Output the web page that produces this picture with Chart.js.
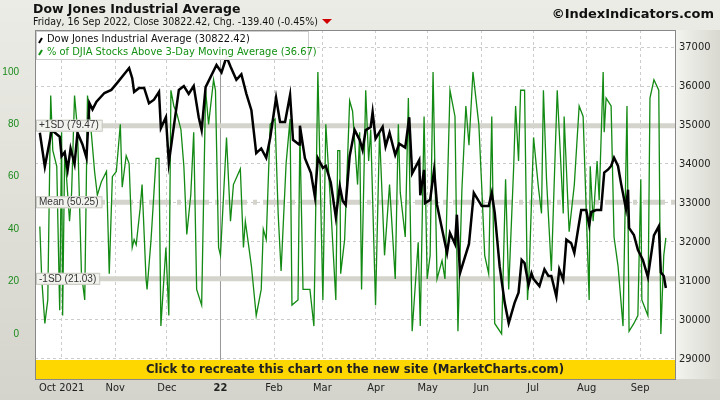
<!DOCTYPE html>
<html>
<head>
<meta charset="utf-8">
<script src="https://cdn.jsdelivr.net/npm/chart.js@4/dist/chart.umd.min.js"></script>
<style>
html,body{margin:0;padding:0;background:#d8d8d0;}
#wrap{width:720px;height:400px;}
</style>
</head>
<body>
<div id="wrap"><canvas id="c" width="720" height="400"></canvas></div>
<script>
// Dados (dias desde 17 Sep 2021)
const djiaDias = [1.4,4.3,8.3,12.9,14.0,15.8,17.5,19.2,21.5,23.2,26.1,28.4,30.1,31.9,34.2,38.8,42.8,46.2,53.1,54.9,56.0,58.9,61.8,64.6,67.5,70.4,71.5,74.4,76.1,81.9,84.8,87.6,90.5,93.4,95.1,97.4,103.7,106.6,109.5,111.8,115.2,118.1,121.0,123.9,126.7,129.6,132.5,134.8,138.2,140.5,143.4,146.3,148.0,151.5,152.0,154.9,158.4,160.7,162.4,165.3,167.0,169.9,172.8,175.1,176.8,178.5,180.8,183.7,186.6,188.3,190.1,193.0,194.1,195.8,199.9,201.6,203.9,207.2,209.5,213.0,215.3,217.0,221.1,221.7,223.9,224.5,227.4,229.7,231.4,237.2,238.9,241.8,242.9,244.7,249.9,252.7,257.3,261.3,263.1,264.8,267.7,270.6,272.9,276.3,278.6,280.4,282.1,284.4,286.1,287.3,290.7,293.6,295.9,297.6,300.5,302.2,304.5,306.3,309.1,310.9,313.2,314.9,317.8,319.5,320.7,323.5,326.4,328.2,330.5,332.2,333.9,336.2,338.0,340.8,342.0,342.6,345.4,347.7,350.6,353.5,357.0,359.8,361.0,362.7,363.9];
const djiaValores = [34800,33930,34870,34700,34200,34300,33850,34400,34000,34800,34500,34160,35560,35400,35600,35820,35900,36080,36460,36200,35850,35950,35950,35560,35650,35850,34920,35200,34030,35900,36000,35800,36000,35200,34870,35970,36540,36350,36750,36500,36160,36300,35800,35380,34280,34400,34160,34670,35700,35080,35080,35770,34620,34500,34980,34150,33770,33160,34150,33900,33950,33520,32640,33430,33050,32950,34200,34870,34620,34360,34870,34950,35330,34650,34950,34450,34800,34230,34520,34420,35200,33760,34100,33200,33850,33000,33080,33850,32950,31720,32230,31950,32700,31200,31950,33260,32920,32920,33260,32750,31360,30440,29920,30440,30700,31540,31460,30900,31200,31050,30870,31300,31130,31130,30600,31300,31030,32060,31970,31720,32360,32820,32820,32430,32770,32820,32820,33780,33860,33950,34160,33950,33490,32850,33340,32360,32180,31800,31540,31100,32170,32400,31220,31130,30820];

const pctDias = [1.4,2.5,4.3,6.0,7.7,8.9,11.2,12.9,14.0,14.6,15.8,18.6,19.8,21.5,23.2,25.5,27.4,29.0,31.3,33.1,34.7,37.0,40.0,41.6,43.4,45.7,48.0,49.1,51.4,53.1,54.9,56.0,57.2,59.5,60.6,62.9,63.5,65.8,68.7,70.4,71.5,74.4,76.1,77.3,79.0,80.8,83.1,84.8,86.5,88.8,90.5,92.2,95.1,97.4,99.1,102.0,103.1,104.9,106.0,109.5,111.8,113.5,117.5,119.3,120.4,123.9,126.7,129.6,130.8,132.5,134.8,137.6,139.4,141.1,144.0,146.3,147.4,150.9,152.0,153.8,157.8,160.1,162.4,165.3,167.0,169.9,172.8,173.9,175.1,175.6,177.9,180.8,182.5,185.4,186.6,187.7,190.1,191.8,193.0,195.8,198.1,201.0,203.9,207.2,209.0,210.1,213.0,214.8,217.0,220.5,221.7,223.9,225.7,227.4,229.1,231.4,234.3,236.0,238.9,241.8,243.5,245.8,248.1,249.9,252.2,255.6,257.3,259.0,261.3,263.1,264.8,268.8,271.1,272.9,275.8,276.9,278.6,279.8,282.1,283.8,284.9,287.3,290.1,291.9,293.0,294.8,297.6,301.0,304.5,305.0,307.9,310.9,313.7,316.0,319.5,320.1,321.8,324.1,325.3,327.6,328.2,329.3,332.2,333.9,336.2,339.1,341.4,342.6,345.4,347.7,349.4,350.0,353.5,354.7,357.0,359.8,361.0,362.7,363.9];
const pctValores = [41,21,4,13,91,70,64,9,77,7,70,43,54,91,78,23,13,91,76,62,53,58,62,23,60,62,80,56,68,65,33,36,34,48,57,21,17,36,67,67,3,33,7,93,87,84,78,64,38,53,77,17,11,93,80,97,93,33,30,75,43,57,63,33,43,26,7,17,40,36,80,82,46,24,65,82,11,13,77,17,17,3,100,13,80,48,13,70,70,23,36,89,85,57,77,17,93,66,78,11,77,30,57,21,80,54,37,90,1,35,3,83,21,30,100,21,28,21,93,83,1,55,87,72,100,80,56,30,23,83,4,0,59,17,64,87,66,93,93,13,26,75,56,46,93,59,24,93,46,83,39,57,87,83,13,64,43,66,51,100,77,90,87,37,26,3,87,1,4,7,59,13,7,90,97,93,0,30,36.67];

const mesesDias = [14,45,75,106,137,165,196,226,257,287,318,349];
const mesesRotulos = ["Oct 2021","Nov","Dec","22","Feb","Mar","Apr","May","Jun","Jul","Aug","Sep"];
const bandas = [{v:79.47,t:"+1SD (79.47)"},{v:50.25,t:"Mean (50.25)",dash:true},{v:21.03,t:"-1SD (21.03)"}];
const ticksEsq = [0,20,40,60,80,100];

const pares = (xs,ys)=>xs.map((x,i)=>({x, y:ys[i]}));
const FONTE = "'Liberation Sans', Arial, sans-serif";
const ESTREITA = "'Liberation Sans Narrow','DejaVu Sans Condensed',sans-serif";

const fundo = {
  id:"fundo",
  beforeDraw(ch){
    const c = ch.ctx, a = ch.chartArea;
    const g = c.createLinearGradient(0,0,0,400);
    g.addColorStop(0,"#ecece6"); g.addColorStop(1,"#d4d4cc");
    c.save();
    c.fillStyle = g; c.fillRect(0,0,720,400);
    const g2 = c.createLinearGradient(a.right,0,720,0);
    g2.addColorStop(0,"#f4f4f0"); g2.addColorStop(1,"#d8d8d0");
    c.fillStyle = g2; c.fillRect(a.right,a.top,720-a.right,a.bottom-a.top);
    c.fillStyle = "#fff"; c.fillRect(a.left,a.top,a.right-a.left,a.bottom-a.top);
    c.restore();
  },
  beforeDatasetsDraw(ch){
    const c = ch.ctx, a = ch.chartArea, y = ch.scales.y, x = ch.scales.x;
    c.save();
    const xj = x.getPixelForValue(106);
    c.strokeStyle = "#999"; c.lineWidth = 1;
    c.beginPath(); c.moveTo(xj,a.top); c.lineTo(xj,a.bottom); c.stroke();
    bandas.forEach(b=>{
      const py = y.getPixelForValue(b.v);
      c.strokeStyle = "#d4d4cc"; c.lineWidth = 5;
      c.setLineDash(b.dash ? [22,6,4,6] : []);
      c.beginPath(); c.moveTo(a.left,py); c.lineTo(a.right,py); c.stroke();
    });
    c.setLineDash([]);
    c.restore();
  },
  afterDatasetsDraw(ch){
    const c = ch.ctx, a = ch.chartArea, y = ch.scales.y;
    c.save();
    c.font = "10px " + FONTE; c.textBaseline = "middle";
    bandas.forEach(b=>{
      const py = y.getPixelForValue(b.v);
      const w = c.measureText(b.t).width + 6;
      c.fillStyle = "#f2f2ee"; c.strokeStyle = "#c8c8c0"; c.lineWidth = 1;
      c.fillRect(a.left+1,py-6,w,12); c.strokeRect(a.left+1.5,py-5.5,w,11);
      c.fillStyle = "#333"; c.fillText(b.t,a.left+4,py);
    });
    // faixa amarela
    c.fillStyle = "#ffd700"; c.fillRect(a.left,360,a.right-a.left,a.bottom-360);
    c.fillStyle = "#222"; c.font = "bold 13px 'DejaVu Sans Condensed','DejaVu Sans',sans-serif";
    c.textAlign = "center";
    c.fillText("Click to recreate this chart on the new site (MarketCharts.com)",(a.left+a.right)/2,369.5);
    c.textAlign = "left";
    // legenda
    c.fillStyle = "rgba(255,255,255,0.95)"; c.strokeStyle = "#ccc";
    c.fillRect(a.left+1,a.top+1,272,28); c.strokeRect(a.left+1.5,a.top+1.5,272,28);
    c.font = "11px 'DejaVu Sans Condensed','DejaVu Sans',sans-serif";
    c.lineWidth = 2;
    c.strokeStyle = "#000"; c.beginPath(); c.moveTo(a.left+4,a.top+13); c.lineTo(a.left+7,a.top+8); c.stroke();
    c.fillStyle = "#111"; c.fillText("Dow Jones Industrial Average (30822.42)",a.left+12,a.top+9);
    c.strokeStyle = "#139113"; c.beginPath(); c.moveTo(a.left+4,a.top+25); c.lineTo(a.left+7,a.top+20); c.stroke();
    c.fillStyle = "#139113"; c.fillText("% of DJIA Stocks Above 3-Day Moving Average (36.67)",a.left+12,a.top+22);
    c.strokeStyle = "#888"; c.lineWidth = 1;
    c.strokeRect(a.left+0.5,a.top+0.5,a.right-a.left,a.bottom-a.top);
    c.restore();
  },
  afterDraw(ch){
    const c = ch.ctx;
    c.save();
    c.textBaseline = "alphabetic";
    c.fillStyle = "#111";
    c.font = "bold 12.5px 'DejaVu Sans',sans-serif";
    c.fillText("Dow Jones Industrial Average",33,13);
    c.font = "10.5px 'DejaVu Sans Condensed','DejaVu Sans',sans-serif";
    const sub = "Friday, 16 Sep 2022, Close 30822.42, Chg. -139.40 (-0.45%)";
    c.fillText(sub,33,25);
    const w = c.measureText(sub).width;
    c.fillStyle = "#d00000";
    c.beginPath(); c.moveTo(33+w+4,19); c.lineTo(33+w+14,19); c.lineTo(33+w+9,24); c.closePath(); c.fill();
    c.fillStyle = "#111"; c.font = "bold 13px 'DejaVu Sans',sans-serif";
    c.textAlign = "right"; c.fillText("©IndexIndicators.com",714,18);
    c.restore();
  }
};

new Chart(document.getElementById("c"),{
  type:"line",
  data:{
    datasets:[
      {label:"DJIA", data:pares(djiaDias,djiaValores), yAxisID:"y2", borderColor:"#000", borderWidth:2.5, pointRadius:0, tension:0},
      {label:"Pct", data:pares(pctDias,pctValores), yAxisID:"y", borderColor:"#138a13", borderWidth:1.3, pointRadius:0, tension:0}
    ]
  },
  options:{
    responsive:false, animation:false, events:[],
    layout:{padding:{top:30,left:0,right:0,bottom:0}},
    plugins:{legend:{display:false}, tooltip:{enabled:false}},
    scales:{
      x:{
        type:"linear", min:-1.4, max:369.2,
        afterBuildTicks(s){ s.ticks = mesesDias.map(v=>({value:v})); },
        afterFit(s){ s.height = 21; },
        ticks:{autoSkip:false, maxRotation:0, color:"#222", padding:3,
          font:(ctx)=>({family:ESTREITA, size:11, weight: ctx.tick && ctx.tick.value===106 ? "bold":"normal"}),
          callback:(v)=>{ const i = mesesDias.indexOf(v); return i>=0 ? mesesRotulos[i] : ""; }},
        grid:{color:"#cccccc", lineWidth:1, drawTicks:false},
        border:{display:true, color:"rgba(0,0,0,0)", width:0, dash:[3,3]}
      },
      y:{
        position:"left", min:-17.2, max:116,
        afterBuildTicks(s){ s.ticks = ticksEsq.map(v=>({value:v})); },
        afterFit(s){ s.width = 35; },
        ticks:{color:"#1a8a1a", font:{family:FONTE, size:10}, padding:8},
        grid:{display:false}, border:{display:false}
      },
      y2:{
        position:"right", min:28487, max:37436,
        afterBuildTicks(s){ s.ticks = []; for(let v=29000; v<=37000; v+=1000) s.ticks.push({value:v}); },
        afterFit(s){ s.width = 45; },
        ticks:{color:"#222", font:{family:ESTREITA, size:11}, padding:4, callback:(v)=>String(v)},
        grid:{color:"#cccccc", lineWidth:1, drawTicks:false},
        border:{display:true, color:"rgba(0,0,0,0)", width:0, dash:[3,3]}
      }
    }
  },
  plugins:[fundo]
});
</script>
</body>
</html>
